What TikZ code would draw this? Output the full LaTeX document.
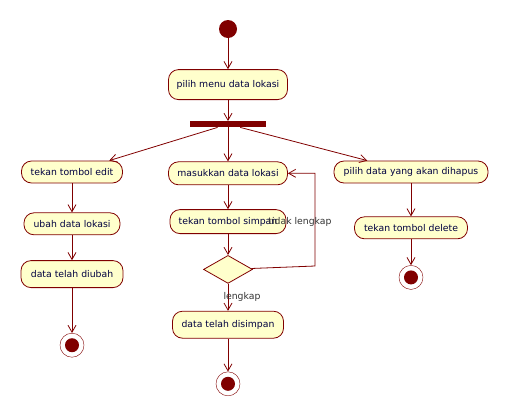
\documentclass[tikz,border=0pt]{standalone}
\usepackage{fontspec}
\setmainfont{DejaVu Sans}
\usetikzlibrary{arrows.meta,positioning,shapes.geometric}
\definecolor{umlred}{RGB}{128,0,0}
\definecolor{umlfill}{RGB}{255,255,204}
\definecolor{umltext}{RGB}{0,0,64}
\tikzset{
    %Define standard arrow tip
    >={Straight Barb[length=7pt,width=8pt]},
    %Define style for activities
    activity/.style={
           rectangle,
           rounded corners=10pt,
           draw=umlred, thick,
           minimum height=22pt,
           inner xsep=4pt,
           font=\fontsize{9.3}{11}\selectfont,
           text=umltext,
           text centered,
           fill=umlfill},
     startnode/.style={
           circle,
           fill=umlred,
           minimum size=18pt,
           inner sep=0pt
           },
     stopnode/.style={
           circle,
           draw=umlred, thin,
           fill=white,
           minimum size=24pt,
           inner sep=0pt,
           path picture={\fill[umlred] (path picture bounding box.center) circle (7pt);}
           },
     forkbar/.style={
           rectangle,
           fill=umlred,
           minimum width=76pt,
           minimum height=6pt,
           inner sep=0pt
           },
     decision/.style={
           diamond,
           aspect=1.75,
           draw=umlred, thick,
           fill=umlfill,
           minimum width=49pt,
           minimum height=28pt,
           inner sep=0pt
           },
     guard/.style={
           font=\fontsize{9.3}{11}\selectfont,
           text=black!80,
           inner sep=1pt
           },
    % Define arrow style
    flow/.style={
           ->,
           draw=umlred,
           thick}
}

\begin{document}
\begin{tikzpicture}[x=1pt,y=-1pt]
\useasboundingbox (0,0) rectangle (508,413);
 %nodes
\node[startnode](start) at (228,29){};
\node[activity, minimum width=119pt, minimum height=30pt, below=31pt of start](menu){pilih menu data lokasi};
\node[forkbar, below=21pt of menu](fork){};
\node[activity, minimum width=119pt, minimum height=23pt, below=34pt of fork](masuk){masukkan data lokasi};
\node[activity, minimum width=116pt, minimum height=24pt, below=24pt of masuk](simpan){tekan tombol simpan};
\node[decision, below=21pt of simpan](dec){};
\node[activity, minimum width=111pt, minimum height=27pt, below=27pt of dec](disimpan){data telah disimpan};
\node[stopnode, below=33pt of disimpan](stopB){};
 % left branch
\node[activity, minimum width=101pt](edit) at (72,172){tekan tombol edit};
\node[activity, minimum width=96pt, below=29pt of edit](ubah){ubah data lokasi};
\node[activity, minimum width=102pt, minimum height=27pt, below=25pt of ubah](diubah){data telah diubah};
\node[stopnode, below=45pt of diubah](stopA){};
 % right branch
\node[activity, minimum width=154pt](hapus) at (411,172){pilih data yang akan dihapus};
\node[activity, minimum width=113pt, below=33pt of hapus](delete){tekan tombol delete};
\node[stopnode, below=26pt of delete](stopC){};
\coordinate (loop) at (315,266);
 %flows
 \path[flow]
    (start) edge (menu)
    (menu) edge (fork)
    (fork) edge (edit) edge (masuk) edge (hapus)
    (edit) edge (ubah)
    (ubah) edge (diubah)
    (diubah) edge (stopA)
    (masuk) edge (simpan)
    (simpan) edge (dec)
    (dec) edge node[guard, pos=0.5, xshift=14pt]{lengkap} (disimpan)
    (disimpan) edge (stopB)
    (hapus) edge (delete)
    (delete) edge (stopC);
\draw[flow] (dec) -- (loop) |- node[guard, pos=0.24, xshift=-15pt]{tidak lengkap} (masuk);
\end{tikzpicture}
\end{document}
